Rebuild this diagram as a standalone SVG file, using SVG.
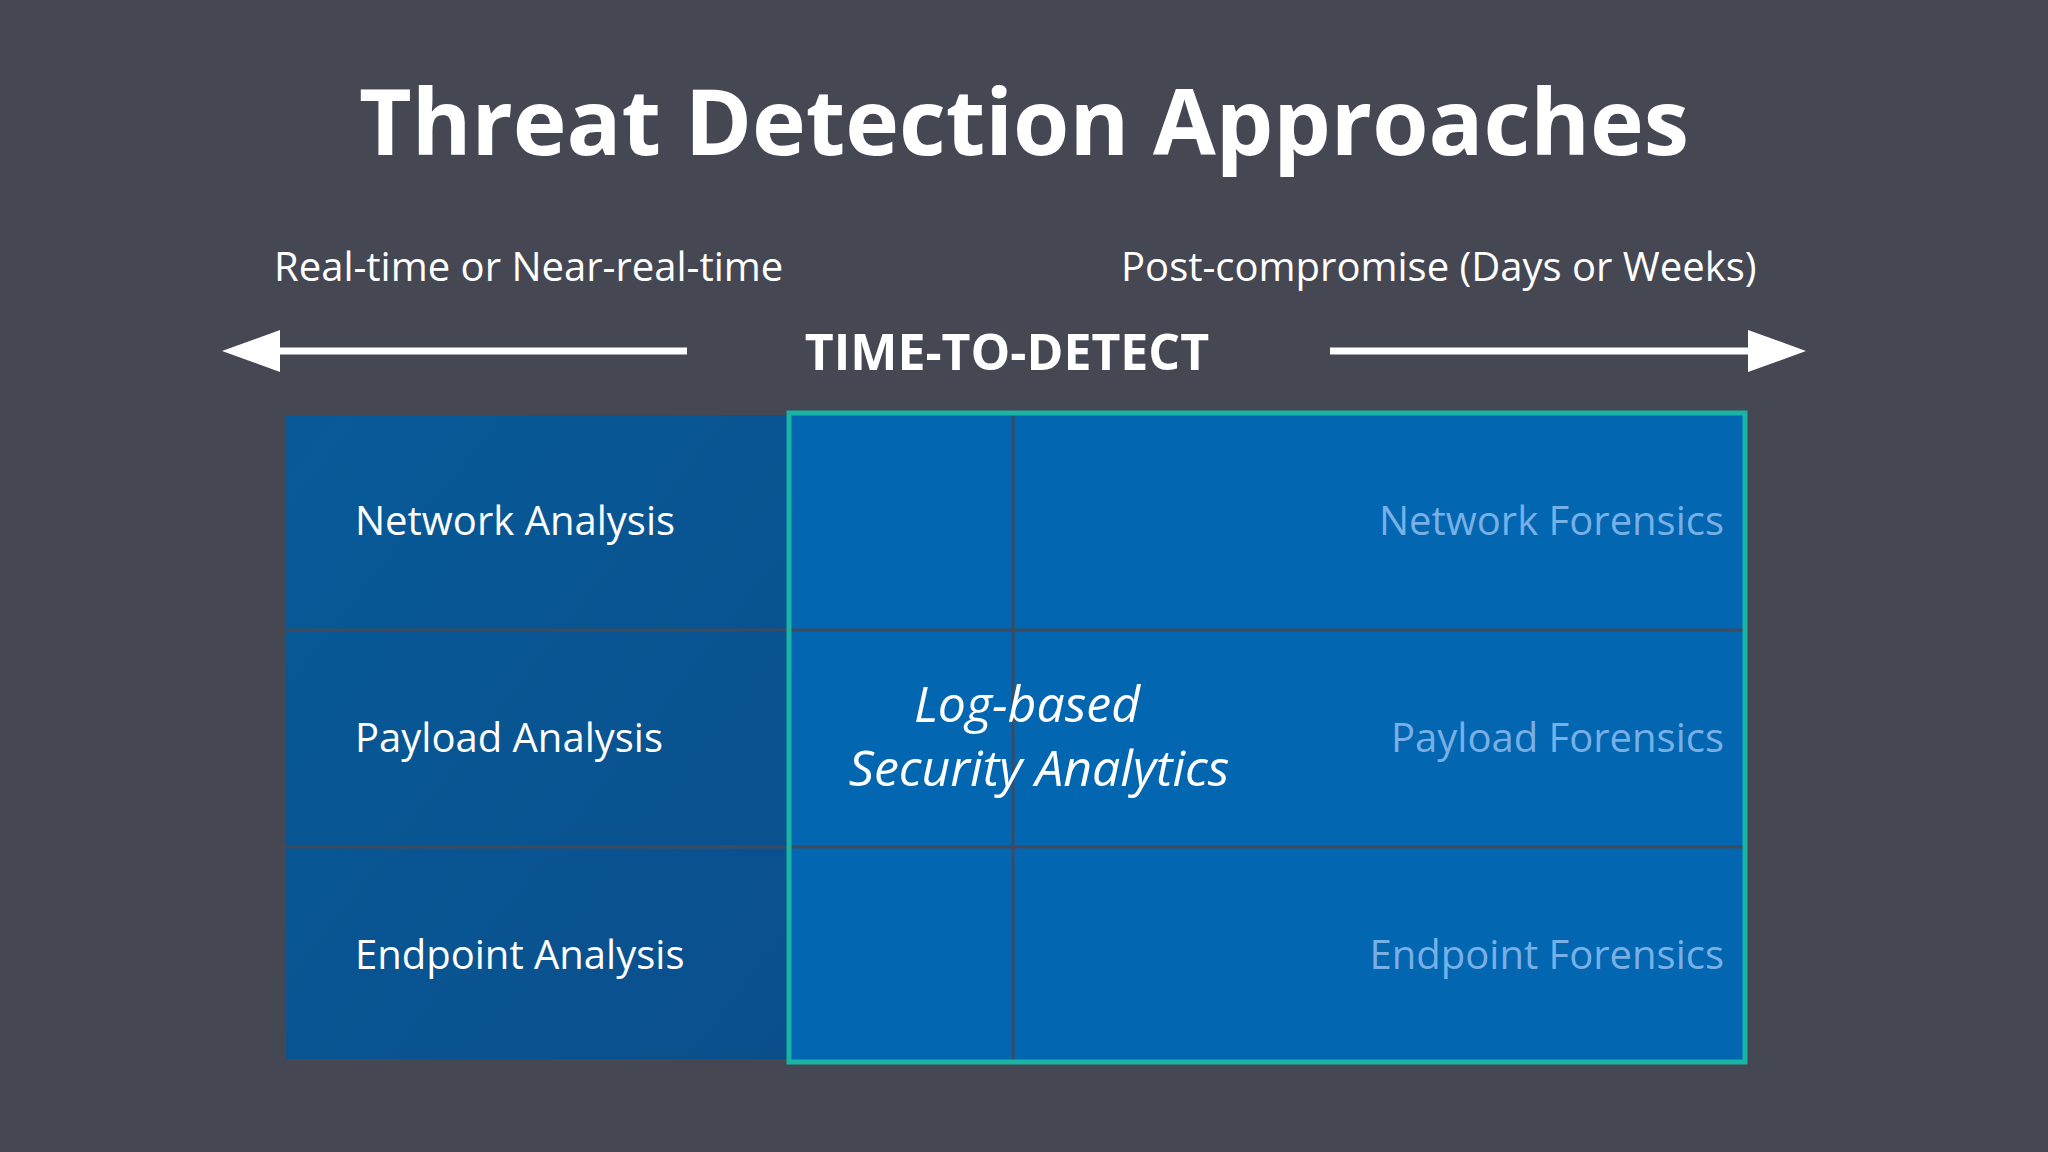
<svg xmlns="http://www.w3.org/2000/svg" width="2048" height="1152" viewBox="0 0 2048 1152">
<style>
text{font-family:"Open Sans","Noto Sans","Liberation Sans",sans-serif;fill:#fff}
.h{font-size:40px}
.l{font-size:40px}
.r{font-size:40px;fill:#78b0e6;text-anchor:end}
.sep{stroke:#3e4a5e;stroke-width:3}
</style>
<defs>
<linearGradient id="lg" x1="0" y1="0" x2="1" y2="1"><stop offset="0" stop-color="#075a98"/><stop offset="1" stop-color="#0a4f8c"/></linearGradient>
</defs>
<rect width="2048" height="1152" fill="#454753"/>
<text x="1024" y="155" font-size="91" font-weight="bold" text-anchor="middle">Threat Detection Approaches</text>
<text class="h" x="274" y="281">Real-time or Near-real-time</text>
<text class="h" x="1121" y="281">Post-compromise (Days or Weeks)</text>
<text x="1007" y="370" font-size="50" font-weight="bold" text-anchor="middle">TIME-TO-DETECT</text>
<g id="connectors">
<line x1="687" y1="351" x2="275" y2="351" stroke="#fff" stroke-width="7"/>
<path d="M222,351L280,330L280,372Z" fill="#fff"/>
<line x1="1330" y1="351" x2="1752" y2="351" stroke="#fff" stroke-width="7"/>
<path d="M1806,351L1748,330L1748,372Z" fill="#fff"/>
</g>
<g id="left">
<rect x="286" y="415" width="503" height="644" fill="url(#lg)"/>
<line class="sep" x1="286" y1="630" x2="789" y2="630"/>
<line class="sep" x1="286" y1="847" x2="789" y2="847"/>
<text class="l" x="355" y="535">Network Analysis</text>
<text class="l" x="355" y="752">Payload Analysis</text>
<text class="l" x="355" y="969">Endpoint Analysis</text>
</g>
<g id="right">
<rect x="789" y="413" width="956" height="649" fill="#0266b1"/>
<line class="sep" x1="789" y1="630" x2="1745" y2="630"/>
<line class="sep" x1="789" y1="847" x2="1745" y2="847"/>
<line class="sep" x1="1013" y1="413" x2="1013" y2="1062"/>
<rect x="789" y="413" width="956" height="649" fill="none" stroke="#19b4a4" stroke-width="5"/>
<text class="r" x="1724" y="535">Network Forensics</text>
<text class="r" x="1724" y="752">Payload Forensics</text>
<text class="r" x="1724" y="969">Endpoint Forensics</text>
<text x="1027" y="722" font-size="50" font-style="italic" text-anchor="middle">Log-based</text>
<text x="1039" y="786" font-size="50" font-style="italic" text-anchor="middle">Security Analytics</text>
</g>
</svg>
